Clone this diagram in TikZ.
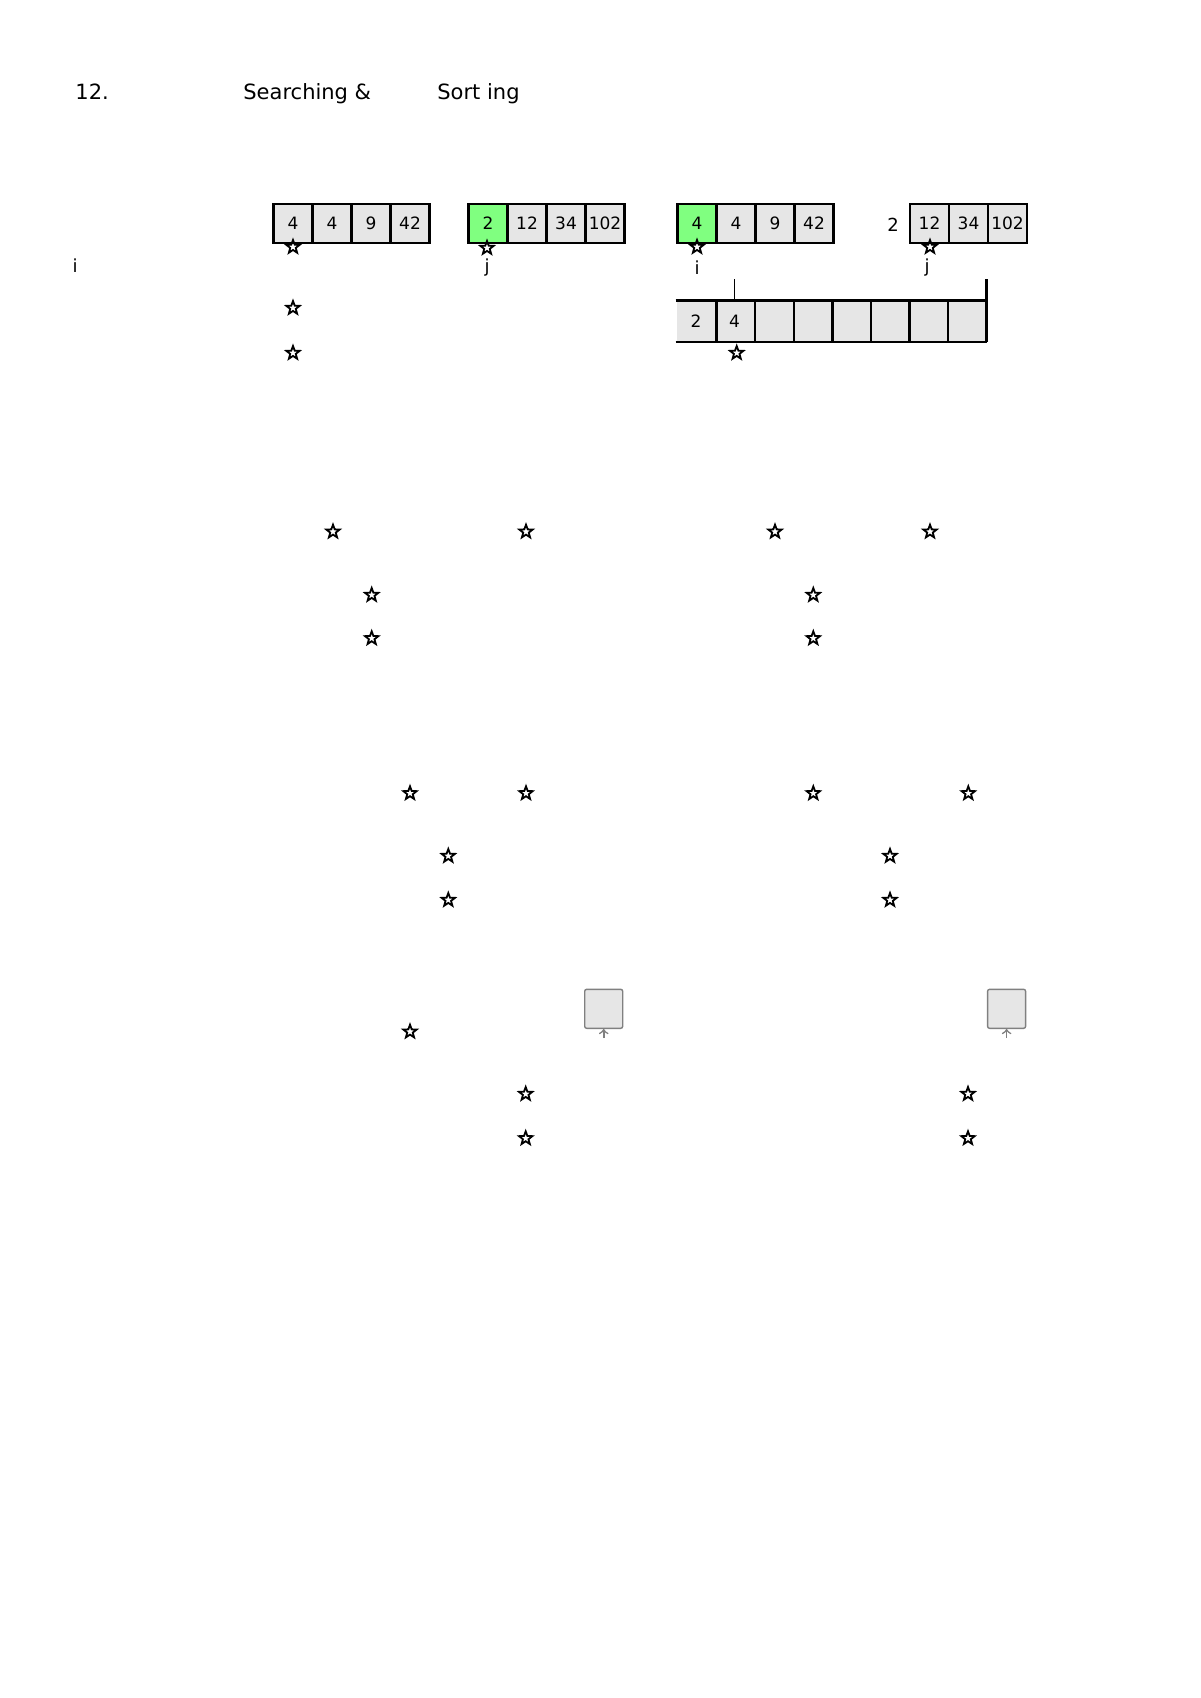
\documentclass[tikz,border=0pt]{standalone}
\usepackage{fontspec}
\setmainfont{DejaVu Sans}
\usetikzlibrary{shapes.geometric}
\definecolor{cellgray}{HTML}{E6E6E6}
\definecolor{cellgreen}{HTML}{80FF80}
\definecolor{slotline}{HTML}{808080}
\tikzset{
  cell/.style={draw, line width=1.2pt, fill=cellgray, minimum size=19.5pt, inner sep=0pt, font=\fontsize{8.5}{10}\selectfont},
  hot/.style={cell, fill=cellgreen},
  pstar/.style={star, star points=5, star point ratio=2.4, draw, line width=0.9pt, inner sep=0pt, minimum size=7pt},
  lbl/.style={inner sep=0pt, font=\fontsize{9}{11}\selectfont},
  head/.style={anchor=base west, inner sep=0pt, font=\fontsize{10.5}{12}\selectfont},
  slot/.style={draw=slotline, fill=cellgray, rounded corners=1pt, line width=0.7pt, minimum width=19pt, minimum height=19.5pt, inner sep=0pt},
}
\begin{document}
\begin{tikzpicture}[x=0.5pt,y=-0.5pt]
  \useasboundingbox (0,0) rectangle (1200,1698);
  %title
  \node[head] (num) at (75,99) {12.};
  \node[head] (srch) at (243,99) {Searching \&};
  \node[head] (sort) at (437,99) {Sort ing};
  %left half
  \foreach \v [count=\k] in {4,4,9,42}
    \node[cell] (a\k) at ({254+39*\k},223.5) {\v};
  \node[hot] (b1) at (488,223.5) {2};
  \foreach \v [count=\k from 2] in {12,34,102}
    \node[cell] (b\k) at ({449+39*\k},223.5) {\v};
  %right half
  \node[hot] (c1) at (697,223.5) {4};
  \foreach \v [count=\k from 2] in {4,9,42}
    \node[cell] (c\k) at ({658+39*\k},223.5) {\v};
  \node[lbl] (two) at (893,225) {2};
  \foreach \v [count=\k] in {12,34,102}
    \node[cell] (d\k) at ({890.5+39*\k},223.5) {\v};
  %merged array
  \foreach \v [count=\k] in {2,4,{},{},{},{},{},{}}
    \node[cell, draw=none, minimum width=19.3pt] (m\k) at ({657.4+38.6*\k},321) {\v};
  \draw[line width=1.2pt] (m1.north west) -- (m8.north east);
  \draw[line width=1.2pt] (m1.south west) -- (m8.south east);
  \foreach \k in {1,...,8}
    \draw[line width=1.2pt] (m\k.north east) -- (m\k.south east);
  \coordinate (mtop) at (m2.north |- 0,279);
  \coordinate (etop) at (m8.north east |- 0,279);
  \draw[line width=0.8pt] (mtop) -- (m2.north);
  \draw[line width=1.3pt] (etop) -- (m8.south east);
  %labels
  \node[lbl] (i1) at (75,266) {i};
  \node[lbl] (j1) at (487,268) {j};
  \node[lbl] (i2) at (697,268) {i};
  \node[lbl] (j2) at (927,268) {j};
  %stars
  \foreach \x/\y [count=\n] in {293/247,487/248,697/247,930/247,
      293/308,293/353,736.7/353,
      333/531.7,526/531.7,775/531.7,930/531.7,
      371.7/595,371.7/638.3,813.3/595,813.3/638.3,
      410/793.3,526/793.3,813.3/793.3,968.3/793.3,
      448.3/856,448.3/900,890/856,890/900,
      410/1031.7,
      525.7/1094,525.7/1138.3,968/1094,968/1138.3}
    \node[pstar] (s\n) at (\x,\y) {};
  %slots
  \node[slot] (t1) at (603.7,1008.8) {};
  \node[slot] (t2) at (1006.6,1008.8) {};
  \coordinate (p1) at (603.7,1038);
  \coordinate (p2) at (1006.6,1038);
  \draw[slotline, line width=0.8pt, ->] (p1) -- (t1.south);
  \draw[slotline, line width=0.8pt, ->] (p2) -- (t2.south);
\end{tikzpicture}
\end{document}
